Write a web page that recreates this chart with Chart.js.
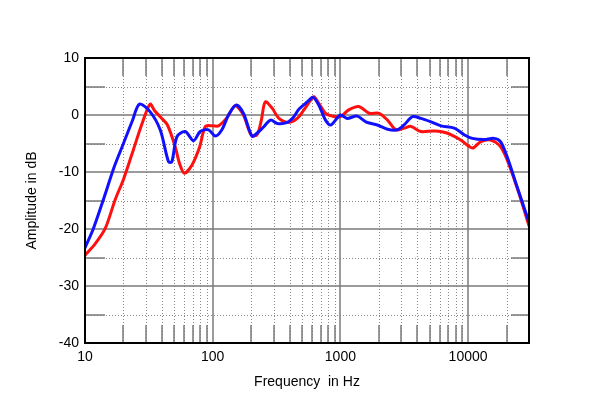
<!DOCTYPE html>
<html>
<head>
<meta charset="utf-8">
<script src="https://cdn.jsdelivr.net/npm/chart.js@4.4.1/dist/chart.umd.min.js"></script>
<style>
	html, body { margin: 0; padding: 0; background: #fff; }
	#wrap { width: 600px; height: 407px; }
</style>
</head>
<body>
<div id="wrap"><canvas id="chart"></canvas></div>
<script>
"use strict";

// red trace
const freqRed = [10, 12, 14.4, 17.2, 20, 24, 28, 32.3, 35, 38.8, 44.2, 50.9, 55, 59.9, 68.7, 79, 87.7, 100, 111, 129, 150, 174, 200, 222, 240, 258, 292, 330, 395, 459, 518, 585, 620, 680, 765, 868, 1000, 1162, 1395, 1680, 2010, 2340, 2720, 3170, 3560, 4270, 5440, 6920, 8760, 10800, 12500, 15000, 18000, 21000, 26000, 30000];
const dbRed = [-24.6, -22.6, -19.9, -14.9, -11.3, -6, -1.5, 1.9, 0.8, -0.3, -1.75, -5.6, -8.5, -10.2, -8.8, -5.6, -2, -1.9, -1.9, -0.5, 1.6, 0, -3.5, -3.5, -1, 2.3, 1.2, -0.6, -1.3, -0.6, 0.9, 2.6, 3.2, 2, 0.3, -0.2, -0.3, 0.9, 1.5, 0.3, 0.3, -0.9, -2.6, -2.3, -2, -2.9, -2.8, -3.2, -4.4, -5.8, -4.7, -4.4, -5.6, -8.8, -14.9, -19.5];

// blue trace
const freqBlue = [10, 11.6, 13.9, 17, 20, 23.5, 26.7, 32.3, 38.8, 45.1, 47.9, 52.5, 60.9, 70.8, 79.8, 92.8, 105, 118, 133, 153, 174, 203, 222, 248, 284, 321, 383, 432, 473, 550, 611, 677, 765, 842, 1000, 1128, 1355, 1580, 1950, 2340, 2790, 3150, 3670, 4270, 5110, 6130, 7800, 9380, 10800, 13300, 16000, 18000, 20200, 24200, 30000];
const dbBlue = [-23.3, -20, -14.9, -9, -5, -1, 1.9, 0.6, -2.6, -8.2, -8.2, -3.8, -2.9, -4.5, -2.9, -2.6, -3.7, -2.6, 0, 1.75, 0.3, -3.7, -3.2, -2.2, -0.9, -1.5, -1.3, -0.3, 1, 2.3, 3.1, 1.75, -0.9, -1.75, 0, -0.6, -0.2, -1.2, -1.75, -2.5, -2.6, -1.75, -0.3, -0.6, -1.2, -1.9, -2.3, -3.5, -4.1, -4.3, -4.1, -4.7, -7.3, -12.6, -18.8];

const xTicks = [10, 100, 1000, 10000];
const yMajor = [-40, -30, -20, -10, 0, 10];
const yMinor = [-35, -25, -15, -5, 5];

function toPoints(xs, ys) {
	return xs.map((x, i) => ({ x: x, y: ys[i] }));
}

// minor frequencies 20..90, 200..900 etc.
function minorFreqs() {
	let arr = [];
	for (let d = 10; d <= 10000; d *= 10) {
		for (let m = 2; m <= 9; m++) {
			if (d * m <= 30000) arr.push(d * m);
		}
	}
	return arr;
}

const gridPlugin = {
	id: 'gridPlugin',
	beforeDatasetsDraw(chart) {
		const ctx = chart.ctx;
		const a = chart.chartArea;
		const xs = chart.scales.x;
		const ys = chart.scales.y;
		ctx.save();

		// dotted minor lines
		ctx.strokeStyle = '#888';
		ctx.lineWidth = 1;
		ctx.setLineDash([1, 2]);
		minorFreqs().forEach((f) => {
			let px = Math.round(xs.getPixelForValue(f)) + 0.5;
			ctx.beginPath();
			ctx.moveTo(px, a.top);
			ctx.lineTo(px, a.bottom);
			ctx.stroke();
		});
		yMinor.forEach((v) => {
			let py = Math.round(ys.getPixelForValue(v)) + 0.5;
			ctx.beginPath();
			ctx.moveTo(a.left, py);
			ctx.lineTo(a.right, py);
			ctx.stroke();
		});

		// solid major lines
		ctx.setLineDash([]);
		ctx.strokeStyle = '#7a7a7a';
		ctx.lineWidth = 1.5;
		xTicks.forEach((f) => {
			let px = Math.round(xs.getPixelForValue(f));
			ctx.beginPath();
			ctx.moveTo(px, a.top);
			ctx.lineTo(px, a.bottom);
			ctx.stroke();
		});
		yMajor.forEach((v) => {
			let py = Math.round(ys.getPixelForValue(v));
			ctx.beginPath();
			ctx.moveTo(a.left, py);
			ctx.lineTo(a.right, py);
			ctx.stroke();
		});

		// short solid tick marks on the edges
		minorFreqs().forEach((f) => {
			let px = Math.round(xs.getPixelForValue(f));
			ctx.beginPath();
			ctx.moveTo(px, a.top);
			ctx.lineTo(px, a.top + 18);
			ctx.moveTo(px, a.bottom);
			ctx.lineTo(px, a.bottom - 18);
			ctx.stroke();
		});
		yMinor.forEach((v) => {
			let py = Math.round(ys.getPixelForValue(v));
			ctx.beginPath();
			ctx.moveTo(a.left, py);
			ctx.lineTo(a.left + 20, py);
			ctx.moveTo(a.right, py);
			ctx.lineTo(a.right - 18, py);
			ctx.stroke();
		});
		ctx.restore();
	},
	afterDatasetsDraw(chart) {
		const ctx = chart.ctx;
		const a = chart.chartArea;
		ctx.save();
		ctx.strokeStyle = '#000';
		ctx.lineWidth = 2;
		ctx.strokeRect(a.left, a.top, a.right - a.left, a.bottom - a.top);
		ctx.restore();
	}
};

const font = { family: '"Liberation Sans", Arial, sans-serif', size: 14 };

new Chart(document.getElementById('chart'), {
	type: 'line',
	data: {
		// blue listed first so it ends up drawn over the red
		datasets: [{
			data: toPoints(freqBlue, dbBlue),
			borderColor: '#1010ff',
			borderWidth: 3,
			pointRadius: 0,
			tension: 0.3,
			fill: false
		}, {
			data: toPoints(freqRed, dbRed),
			borderColor: '#ff1010',
			borderWidth: 3,
			pointRadius: 0,
			tension: 0.3,
			fill: false
		}]
	},
	options: {
		responsive: true,
		maintainAspectRatio: false,
		animation: false,
		layout: { padding: { left: 0, right: 71, top: 58, bottom: 0 } },
		plugins: {
			legend: { display: false },
			tooltip: { enabled: false }
		},
		scales: {
			x: {
				type: 'logarithmic',
				min: 10,
				max: 30000,
				grid: { display: false, drawTicks: false },
				border: { display: false },
				afterBuildTicks: (scale) => {
					scale.ticks = xTicks.map((v) => ({ value: v }));
				},
				afterFit: (scale) => { scale.height = 64; },
				ticks: {
					color: '#000',
					font: font,
					padding: 6,
					maxRotation: 0,
					autoSkip: false,
					callback: (v) => String(v)
				},
				title: {
					display: true,
					text: 'Frequency  in Hz',
					color: '#000',
					font: font,
					padding: { top: 0, bottom: 16 }
				}
			},
			y: {
				min: -40,
				max: 10,
				grid: { display: false, drawTicks: false },
				border: { display: false },
				afterBuildTicks: (scale) => {
					scale.ticks = yMajor.map((v) => ({ value: v }));
				},
				afterFit: (scale) => { scale.width = 85; },
				ticks: {
					color: '#000',
					font: font,
					padding: 6
				},
				title: {
					display: true,
					text: 'Amplitude in dB',
					color: '#000',
					font: font,
					padding: { top: 24, bottom: 0 }
				}
			}
		}
	},
	plugins: [gridPlugin]
});
</script>
</body>
</html>
